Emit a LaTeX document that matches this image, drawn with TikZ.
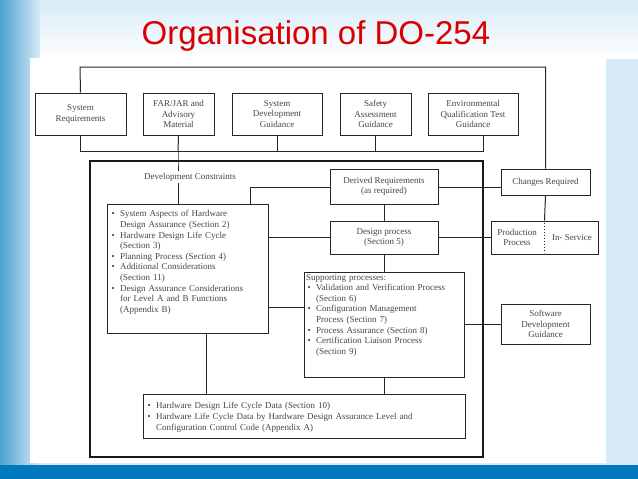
\documentclass[tikz,border=0pt]{standalone}
\usepackage{fontspec}
\setmainfont{Liberation Serif}
\newfontfamily\titlefont{Liberation Sans}
\definecolor{slideblue}{RGB}{0,120,190}
\definecolor{lightblue}{RGB}{215,235,248}
\definecolor{txt}{RGB}{70,70,70}
\newcommand\itm[1]{\par\hangindent=10pt\hangafter=1\noindent\makebox[10pt][l]{\,\textbullet}#1}
\begin{document}
\begin{tikzpicture}[x=1pt,y=-1pt,
  bx/.style={draw=black!85,line width=1pt,inner sep=0pt,text=txt,font=\fontsize{9}{10.6}\selectfont,align=center},
  ln/.style={draw=black!85,line width=1pt},
  lst/.style={text=txt,font=\fontsize{9}{10.6}\selectfont,align=left,inner sep=0pt,anchor=north west}]
\useasboundingbox (0,0) rectangle (638,479);
\shade[left color=slideblue!70,right color=lightblue] (0,0) rectangle (40,479);
\fill[lightblue] (40,0) rectangle (638,479);
\shade[top color=lightblue,bottom color=white] (40,0) rectangle (638,58);
\fill[white] (30,58) rectangle (606,463);
\fill[slideblue] (0,465) rectangle (638,479);
\node[font=\titlefont\fontsize{33}{36}\selectfont,text=red!85!black] (title) at (316,36) {Organisation of DO-254};
% top boxes
\node[bx,minimum width=91pt,minimum height=42pt] (sr) at (80.5,114) {System\\Requirements};
\node[bx,minimum width=71pt,minimum height=42pt] (far) at (178.5,114) {FAR/JAR and\\Advisory\\Material};
\node[bx,minimum width=90pt,minimum height=42pt] (sdg) at (277,114) {System\\Development\\Guidance};
\node[bx,minimum width=71pt,minimum height=42pt] (sag) at (375.5,114) {Safety\\Assessment\\Guidance};
\node[bx,minimum width=90pt,minimum height=42pt] (env) at (473,114) {Environmental\\Qualification Test\\Guidance};
% big box
\draw[line width=2pt,black!90] (90,161) rectangle (483,457);
\coordinate (bb) at (178,161);
\node[text=txt,font=\fontsize{9}{10.6}\selectfont,inner sep=1pt] (dc) at (190,177) {Development Constraints};
% left box
\node[bx,minimum width=161pt,minimum height=129pt] (lb) at (187.5,268.5) {};
\node[lst,text width=156pt] (lbt) at (110,206) {\itm{System Aspects of Hardware\newline Design Assurance (Section 2)}
\itm{Hardware Design Life Cycle\newline (Section 3)}
\itm{Planning Process (Section 4)}
\itm{Additional Considerations\newline (Section 11)}
\itm{Design Assurance Considerations\newline for Level A and B Functions\newline (Appendix B)}\par};
\node[bx,minimum width=108pt,minimum height=35pt] (dr) at (384,186.5) {Derived Requirements\\(as required)};
\node[bx,minimum width=108pt,minimum height=33pt] (dp) at (384,237.5) {Design process\\(Section 5)};
\node[bx,minimum width=160pt,minimum height=105pt] (sp) at (384,324.5) {};
\node[lst,text width=158pt] (spt) at (306,274) {Supporting processes:
\itm{Validation and Verification Process\newline (Section 6)}
\itm{Configuration Management\newline Process (Section 7)}
\itm{Process Assurance (Section 8)}
\itm{Certification Liaison Process\newline (Section 9)}\par};
\node[bx,minimum width=322pt,minimum height=44pt] (hw) at (304,416) {};
\node[lst,text width=318pt] (hwt) at (146,398) {\itm{Hardware Design Life Cycle Data (Section 10)}
\itm{Hardware Life Cycle Data by Hardware Design Assurance Level and\newline Configuration Control Code (Appendix A)}\par};
% right boxes
\node[bx,minimum width=89pt,minimum height=26pt] (cr) at (545.5,182) {Changes Required};
\node[bx,minimum width=107pt,minimum height=33pt] (pp) at (544.5,237.5) {};
\node[text=txt,font=\fontsize{9}{10.6}\selectfont,align=center,inner sep=0pt] (ppl) at (517,237.5) {Production\\Process};
\node[text=txt,font=\fontsize{9}{10.6}\selectfont,inner sep=0pt] (ppr) at (572,237.5) {In- Service};
\draw[black!85,line width=1pt,dotted] ([yshift=-2pt]pp.north) -- ([yshift=2pt]pp.south);
\node[bx,minimum width=89pt,minimum height=40pt] (sw) at (545.5,324) {Software\\Development\\Guidance};
% connectors
\draw[ln] (sr.north) -- (80,67) -| (cr.north);
\draw[ln] (sr.south) |- (483,151) -- (483,135);
\draw[ln] (far.south) -- (178,151);
\draw[ln] (sdg.south) -- (277,151);
\draw[ln] (sag.south) -- (375.5,151);
\draw[ln] (178,151) -- (bb) -- (178,171);
\draw[ln] (178,183) -- (178,204);
\draw[ln] (250,204) |- (330,187);
\draw[ln] (438,187) -- (501,187);
\draw[ln] (dr.south) -- (dp.north);
\draw[ln] (268,237.5) -- (dp.west);
\draw[ln] (dp.east) -- (pp.west);
\draw[ln] (cr.south) -- (pp.north);
\draw[ln] (dp.south) -- (sp.north);
\draw[ln] (268,307) -- (304,307);
\draw[ln] (464,324) -- (sw.west);
\draw[ln] (206,333) -- (206,394);
\draw[ln] (sp.south) -- (384,394);
\end{tikzpicture}
\end{document}
